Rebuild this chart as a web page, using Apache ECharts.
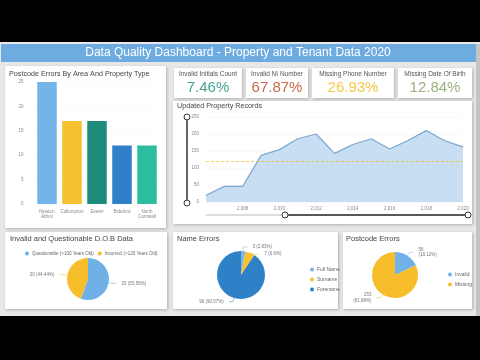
<!DOCTYPE html>
<html><head><meta charset="utf-8">
<script src="https://cdn.jsdelivr.net/npm/echarts@6/dist/echarts.min.js"></script>
<style>html,body{margin:0;padding:0;background:#000}#c{width:480px;height:360px}</style>
</head><body><div id="c"></div><script>
// ---- data ----
const dashboardTitle = 'Data Quality Dashboard - Property and Tenant Data 2020';
const barCategories = ['Newton\nAbbot', 'Cullompton', 'Exeter', 'Bideford', 'North\nCornwall'];
const barValues = [25, 17, 17, 12, 12];
const years = [2006, 2007, 2008, 2009, 2010, 2011, 2012, 2013, 2014, 2015, 2016, 2017, 2018, 2019, 2020];
const updatedRecords = [20, 46, 46, 137, 154, 186, 200, 143, 169, 186, 156, 181, 210, 180, 162];
const referenceValue = [119];
const kpiTitles = ['Invalid Initials Count', 'Invalid NI Number', 'Missing Phone Number', 'Missing Date Of Birth'];
const kpiValues = ['7.46%', '67.87%', '26.93%', '12.84%'];
const dobNames = ['Questionable (>100 Years Old)', 'Incorrect (>120 Years Old)'];
const dobValues = [25, 20];
const nameErrNames = ['Full Name', 'Surname', 'Forename'];
const nameErrValues = [3, 7, 96];
const pcErrNames = ['Invalid', 'Missing'];
const pcErrValues = [56, 253];

// ---- styles ----
const FONT = '"Liberation Sans", Arial, sans-serif';
const barColors = ['#74b5e9', '#f7c031', '#1f8b7b', '#2f80c9', '#2bbd9d'];
const kpiColors = ['#45a595', '#c9694b', '#f5c744', '#9bb27c'];
const panels = [
  [5, 66, 161, 162], [174, 68, 68, 30], [246, 68, 62, 30], [312, 68, 82, 30], [398, 68, 74, 30],
  [173, 101, 299, 123], [5, 232, 162, 77], [173, 232, 165, 77], [343, 232, 129, 77]
];
const kpiCards = panels.slice(1, 5);

const graphic = [
  {type: 'rect', shape: {x: 0, y: 42, width: 480, height: 274}, style: {fill: '#e8e8e8'}, z: -10},
  {type: 'rect', shape: {x: 476, y: 44, width: 4, height: 272}, style: {fill: '#c4c4c4'}, z: -9},
  {type: 'rect', shape: {x: 1, y: 44, width: 475, height: 18}, style: {fill: '#6eabe1'}, z: -9},
  {type: 'text', x: 238, y: 53, style: {text: dashboardTitle, fill: '#ffffff', font: '12px ' + FONT, align: 'center', verticalAlign: 'middle'}, z: 5}
];
panels.forEach(p => graphic.push({type: 'rect', shape: {x: p[0], y: p[1], width: p[2], height: p[3]},
  style: {fill: '#ffffff', shadowBlur: 3, shadowColor: 'rgba(0,0,0,0.25)', shadowOffsetX: 1, shadowOffsetY: 1}, z: -8}));
kpiCards.forEach((p, i) => {
  graphic.push({type: 'text', x: p[0] + p[2] / 2, y: p[1] + 6, style: {text: kpiTitles[i], fill: '#555', font: '6.5px ' + FONT, align: 'center', verticalAlign: 'middle'}, z: 5});
  graphic.push({type: 'text', x: p[0] + p[2] / 2, y: p[1] + 20, style: {text: kpiValues[i], fill: kpiColors[i], font: '15px ' + FONT, align: 'center', verticalAlign: 'middle'}, z: 5});
});
const panelTitles = [
  ['Postcode Errors By Area And Property Type', 9, 74.5, 7.2],
  ['Updated Property Records', 177, 106.5, 7.2],
  ['Invalid and Questionable D.O.B Data', 10, 238.5, 7.5],
  ['Name Errors', 177, 238.5, 7.5],
  ['Postcode Errors', 346, 238.5, 7.5]
];
panelTitles.forEach(t => graphic.push({type: 'text', x: t[1], y: t[2], style: {text: t[0], fill: '#444', font: t[3] + 'px ' + FONT, verticalAlign: 'middle'}, z: 5}));
// zoom slider decorations on the line chart
graphic.push(
  {type: 'line', shape: {x1: 187, y1: 117, x2: 187, y2: 203}, style: {stroke: '#333', lineWidth: 1.5}, z: 6},
  {type: 'circle', shape: {cx: 187, cy: 117, r: 3}, style: {fill: '#fff', stroke: '#333', lineWidth: 1}, z: 7},
  {type: 'circle', shape: {cx: 187, cy: 203, r: 3}, style: {fill: '#fff', stroke: '#333', lineWidth: 1}, z: 7},
  {type: 'line', shape: {x1: 206, y1: 215, x2: 285, y2: 215}, style: {stroke: '#aaa', lineWidth: 0.8}, z: 6},
  {type: 'line', shape: {x1: 285, y1: 215, x2: 468, y2: 215}, style: {stroke: '#222', lineWidth: 1.5}, z: 6},
  {type: 'circle', shape: {cx: 285, cy: 215, r: 3}, style: {fill: '#fff', stroke: '#333', lineWidth: 1}, z: 7},
  {type: 'circle', shape: {cx: 468, cy: 215, r: 3}, style: {fill: '#fff', stroke: '#333', lineWidth: 1}, z: 7}
);

const smallLabel = {fontSize: 4.5, color: '#888', fontFamily: FONT};

const option = {
  animation: false,
  backgroundColor: '#000',
  textStyle: {fontFamily: FONT},
  graphic: graphic,
  grid: [
    {left: 34.5, top: 82, width: 125, height: 122},
    {left: 206, top: 117, width: 257, height: 85}
  ],
  xAxis: [
    {type: 'category', gridIndex: 0, data: barCategories,
     axisLine: {show: false}, axisTick: {show: false},
     axisLabel: Object.assign({margin: 5, lineHeight: 5.5, interval: 0}, smallLabel)},
    {type: 'value', gridIndex: 1, min: 2006, max: 2020, interval: 2,
     axisLine: {show: false}, axisTick: {show: false}, splitLine: {show: false},
     axisLabel: Object.assign({margin: 4, showMinLabel: false}, smallLabel)}
  ],
  yAxis: [
    {type: 'value', gridIndex: 0, min: 0, max: 25, interval: 5,
     axisLine: {show: false}, axisTick: {show: false},
     splitLine: {lineStyle: {color: '#f4f4f4', width: 0.5}},
     axisLabel: Object.assign({margin: 11}, smallLabel)},
    {type: 'value', gridIndex: 1, min: 0, max: 250, interval: 50,
     axisLine: {show: false}, axisTick: {show: false},
     splitLine: {lineStyle: {color: '#f2f2f2', width: 0.5}},
     axisLabel: Object.assign({margin: 7}, smallLabel)}
  ],
  legend: [
    {data: dobNames, left: 20, top: 246, itemWidth: 4, itemHeight: 4, itemGap: 4, icon: 'circle',
     textStyle: {fontSize: 4.5, color: '#666', padding: [0, 0, 0, -2]}},
    {data: nameErrNames, orient: 'vertical', left: 305, top: 262, itemWidth: 4, itemHeight: 4, itemGap: 5, icon: 'circle',
     textStyle: {fontSize: 5, color: '#666', padding: [0, 0, 0, -2]}},
    {data: pcErrNames, orient: 'vertical', left: 443, top: 267, itemWidth: 4, itemHeight: 4, itemGap: 5, icon: 'circle',
     textStyle: {fontSize: 5, color: '#666', padding: [0, 0, 0, -2]}}
  ],
  series: [
    {type: 'bar', xAxisIndex: 0, yAxisIndex: 0, barWidth: 19.5,
     data: barValues.map((v, i) => ({value: v, itemStyle: {color: barColors[i]}}))},
    {type: 'line', xAxisIndex: 1, yAxisIndex: 1, symbol: 'none', z: 2,
     data: years.map((y, i) => [y, updatedRecords[i]]),
     lineStyle: {color: '#7ea6cc', width: 1.2},
     areaStyle: {color: '#c8def3', opacity: 1}},
    {type: 'line', xAxisIndex: 1, yAxisIndex: 1, symbol: 'none', z: 5, silent: true,
     data: [[years[0], referenceValue[0]], [years[years.length - 1], referenceValue[0]]],
     itemStyle: {color: '#f0bc20'},
     lineStyle: {color: '#f0bc20', type: [3, 2], width: 0.9, opacity: 0.85}},
    {type: 'pie', center: [88, 279], radius: 21, startAngle: 90,
     label: {fontSize: 4.5, color: '#777', formatter: '{c} ({d}%)'},
     labelLine: {length: 4, length2: 4, lineStyle: {width: 0.5}},
     data: dobNames.map((n, i) => ({name: n, value: dobValues[i], itemStyle: {color: ['#6fb1e7', '#f7be2c'][i]}}))},
    {type: 'pie', center: [241, 275], radius: 24, startAngle: 90,
     label: {fontSize: 4.5, color: '#777', formatter: '{c} ({d}%)'},
     labelLine: {length: 4, length2: 4, lineStyle: {width: 0.5}},
     data: nameErrNames.map((n, i) => ({name: n, value: nameErrValues[i], itemStyle: {color: ['#76b6ea', '#f7c12f', '#2e80c7'][i]}}))},
    {type: 'pie', center: [395, 275], radius: 23, startAngle: 90,
     label: {fontSize: 4.5, color: '#777', formatter: '{c}\n({d}%)', lineHeight: 5.5},
     labelLine: {length: 4, length2: 4, lineStyle: {width: 0.5}},
     data: pcErrNames.map((n, i) => ({name: n, value: pcErrValues[i], itemStyle: {color: ['#70b1e7', '#f8bd2b'][i]}}))}
  ]
};
const chart = echarts.init(document.getElementById('c'), null, {renderer: 'canvas', width: 480, height: 360});
chart.setOption(option);
</script></body></html>
